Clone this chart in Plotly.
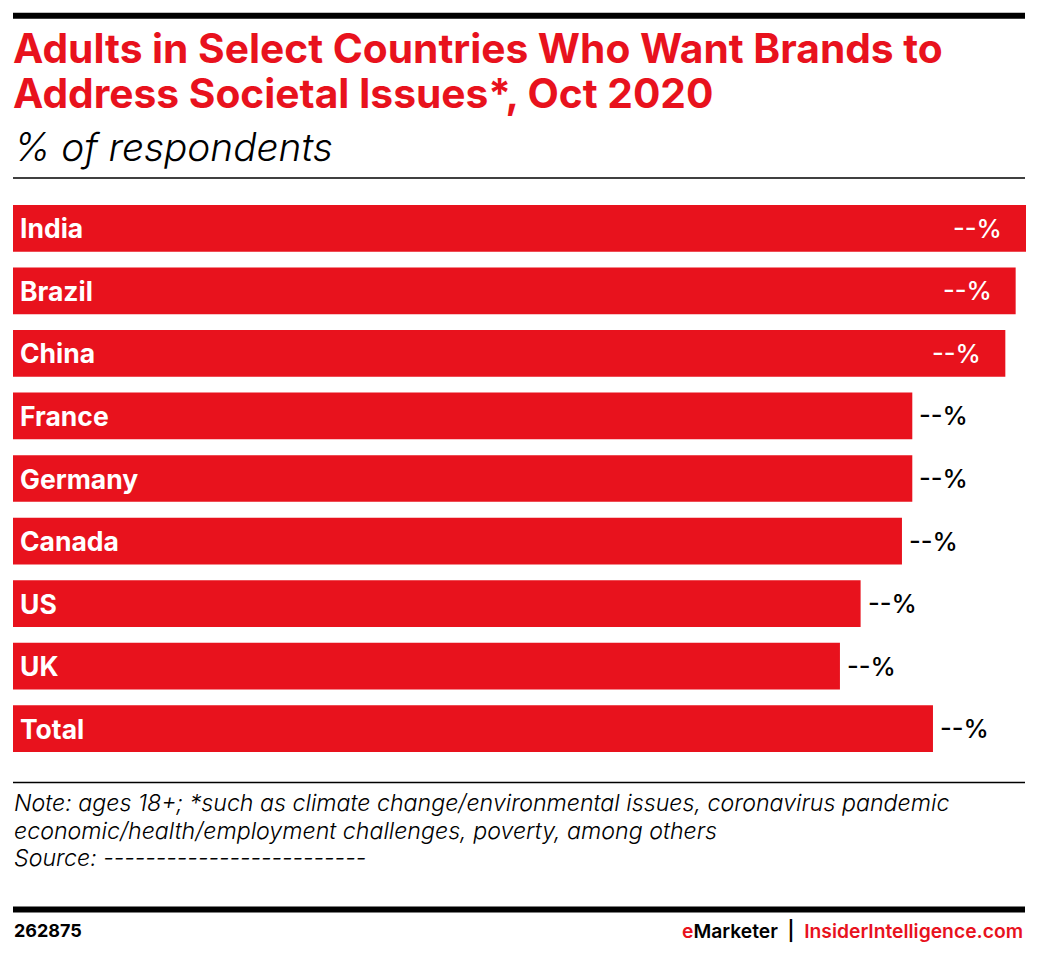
import plotly.graph_objects as go

countries = ["India", "Brazil", "China", "France", "Germany", "Canada", "US", "UK", "Total"]
values = [98, 97, 96, 87, 87, 86, 82, 80, 89]
value_labels = ["--%"] * len(countries)
inside_label = [True, True, True, False, False, False, False, False, False]

RED = "#E8121D"
W, H = 1038, 954
L, R = 13, 12
TOP, BOT = 197, 759.6

def px(p):
    return (p - L) / (W - L - R)

def py(p):
    return (BOT - p) / (BOT - TOP)

fig = go.Figure()
fig.add_trace(go.Bar(
    y=countries, x=values, orientation="h",
    marker=dict(color=RED, line=dict(width=0)),
    hoverinfo="skip",
))

annotations = []
for c, v, t, ins in zip(countries, values, value_labels, inside_label):
    annotations.append(dict(
        x=0, y=c, xref="x", yref="y", text=c, showarrow=False,
        xanchor="left", yanchor="middle", xshift=5,
        font=dict(family="Inter", size=26.5, color="white", weight=700),
    ))
    if ins:
        annotations.append(dict(
            x=v, y=c, xref="x", yref="y", text=t, showarrow=False,
            xanchor="right", yanchor="middle", xshift=-22,
            font=dict(family="Inter", size=25.5, color="white", weight=500),
        ))
    else:
        annotations.append(dict(
            x=v, y=c, xref="x", yref="y", text=t, showarrow=False,
            xanchor="left", yanchor="middle", xshift=5,
            font=dict(family="Inter", size=25.5, color="black", weight=500),
        ))

def txt(text, x, y, size, color="black", weight=400, family="Inter", xanchor="left", italic=False):
    annotations.append(dict(
        x=px(x), y=py(y), xref="paper", yref="paper", text=text, showarrow=False,
        xanchor=xanchor, yanchor="middle",
        font=dict(family=family, size=size, color=color, weight=weight,
                  style="italic" if italic else "normal"),
    ))

txt("Adults in Select Countries Who Want Brands to", 11, 49, 40.7, RED, 700)
txt("Address Societal Issues*, Oct 2020", 11, 94, 40.7, RED, 700)
txt("% of respondents", 12, 147, 38.8, "black", 300, italic=True)
txt("Note: ages 18+; *such as climate change/environmental issues, coronavirus pandemic", 12, 803, 23.2, "black", 300, italic=True)
txt("economic/health/employment challenges, poverty, among others", 12, 831, 23.2, "black", 300, italic=True)
txt("Source: -------------------------", 12, 858, 23.2, "black", 300, italic=True)
txt("262875", 12, 930, 18, "black", 700)
txt('<span style="color:%s">e</span>Marketer  |  <span style="color:%s">InsiderIntelligence.com</span>' % (RED, RED),
    1025, 930, 19.3, "black", 600, xanchor="right")

shapes = []
def hline(y, w):
    shapes.append(dict(type="line", xref="paper", yref="paper",
                       x0=px(13), x1=px(1025), y0=py(y), y1=py(y),
                       line=dict(color="black", width=w)))
hline(15.8, 6)
hline(178, 1.5)
hline(782, 1.5)
hline(909, 6)

fig.update_layout(
    width=W, height=H,
    margin=dict(l=L, r=R, t=TOP, b=H - BOT, pad=0),
    paper_bgcolor="white", plot_bgcolor="white",
    bargap=0.253,
    showlegend=False,
    xaxis=dict(range=[0, 98], visible=False, fixedrange=True),
    yaxis=dict(autorange="reversed", visible=False, fixedrange=True),
    annotations=annotations,
    shapes=shapes,
)

fig.write_html("out.html", config={"displayModeBar": False})
